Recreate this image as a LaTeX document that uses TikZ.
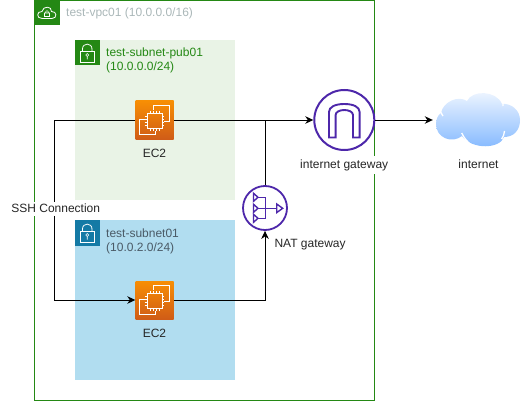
\documentclass[tikz,border=0pt]{standalone}
\usepackage{fontspec}
\setmainfont{Liberation Sans}
\usetikzlibrary{arrows.meta}
\definecolor{vpcgreen}{HTML}{248814}
\definecolor{pubfill}{HTML}{E9F3E6}
\definecolor{privfill}{HTML}{B1DDF0}
\definecolor{privblue}{HTML}{147AA5}
\definecolor{vpcgray}{HTML}{AAB7B8}
\definecolor{privtext}{HTML}{4A5A66}
\definecolor{gwpurple}{HTML}{4D27AA}
\definecolor{ectop}{HTML}{F78E04}
\definecolor{ecbottom}{HTML}{D05C17}
\definecolor{cloudtop}{HTML}{F0F6FF}
\definecolor{cloudbottom}{HTML}{82B8FF}
\tikzset{
  txt/.style={font=\fontsize{12}{14}\selectfont,inner sep=0pt,text=black!85},
  backed/.style={txt,fill=white,minimum height=14pt},
  conn/.style={draw=black,line width=1pt},
  tip/.style={-{Stealth[length=8pt,width=7.5pt,inset=2.5pt]}},
  ecbox/.style={rectangle,inner sep=0pt,minimum size=38pt,top color=ectop,bottom color=ecbottom},
  gwcircle/.style={circle,inner sep=0pt,draw=gwpurple,fill=white},
  iconline/.style={draw=white,line width=.8pt},
  gwline/.style={draw=gwpurple,line width=1.9pt},
  natline/.style={draw=gwpurple,line width=1.4pt},
  pics/ec2icon/.style={code={
    \draw[iconline,line width=1pt] (-7.5,-6.7) rectangle (7.5,8.3);
    \foreach \p in {-4.5,-1.5,1.5,4.5} {
      \draw[iconline,line width=.6pt] (\p,-9) -- (\p,-6.7) (\p,8.3) -- (\p,10.6);
      \draw[iconline,line width=.6pt] (-9.8,\p+.8) -- (-7.5,\p+.8) (7.5,\p+.8) -- (9.8,\p+.8);
    }
    \draw[iconline,line width=1pt] (-.8,-10) -- (-.8,-14.7) -- (15,-14.7) -- (15,1.3) -- (9.8,1.3);
    \draw[iconline,line width=1pt] (-9.8,-.7) -- (-15,-.7) -- (-15,14.7) -- (1.2,14.7) -- (1.2,10.6);
  }},
  pics/lockicon/.style={code={
    \fill[#1] (0,0) rectangle (25.5,25.5);
    \draw[iconline] (6,11.5) rectangle (19.5,22.5);
    \draw[iconline] (8,11.5) -- (8,9) .. controls (8,2.5) and (17.5,2.5) .. (17.5,9) -- (17.5,11.5);
    \draw[iconline,line width=.6pt] (12.7,15) circle (1.5) (12.7,16.5) -- (12.7,19.5);
  }}
}
\begin{document}
\begin{tikzpicture}[x=1pt,y=-1pt]
  \useasboundingbox (0,0) rectangle (524,401);
  \draw[vpcgreen,line width=1pt] (34.5,.5) rectangle (374.5,400.5);
  \fill[vpcgreen] (34.5,0) rectangle (60,25);
  \draw[iconline] (42,18.5) .. controls (36,18.5) and (36.5,11) .. (42,11.5)
    .. controls (43,5.5) and (52,6) .. (51.5,11.5)
    .. controls (57,11) and (57.5,18.5) .. (52,18.5) -- cycle;
  \draw[iconline,line width=.6pt] (44.5,13) rectangle (49.5,16.5)
    (45.5,13) .. controls (45.5,10) and (48.5,10) .. (48.5,13);
  \node[txt,text=vpcgray,anchor=west] (vpclabel) at (66,13.7) {test-vpc01 (10.0.0.0/16)};

  \fill[pubfill] (74.5,40) rectangle (234.5,200);
  \pic at (74.5,40) {lockicon=vpcgreen};
  \node[txt,text=vpcgreen,anchor=west,align=left] (publabel) at (106,60.7) {test-subnet-pub01\\(10.0.0.0/24)};

  \fill[privfill] (74.5,220) rectangle (234.5,380);
  \pic at (74.5,220) {lockicon=privblue};
  \node[txt,text=privtext,anchor=west,align=left] (privlabel) at (106,241) {test-subnet01\\(10.0.2.0/24)};

  \node[ecbox] (ec2pub) at (154.5,120) {};
  \pic at (ec2pub) {ec2icon};
  \node[txt] (ec2publabel) at (154.5,153.7) {EC2};
  \node[ecbox] (ec2priv) at (154.5,300) {};
  \pic at (ec2priv) {ec2icon};
  \node[txt] (ec2privlabel) at (154.5,333.7) {EC2};

  \node[backed,minimum height=18pt] (igwlabel) at (344.2,165) {internet gateway};
  \node[gwcircle,minimum size=60pt,line width=2pt] (igw) at (344.3,120) {};
  \draw[gwline,fill=white] (329,137.5) -- (329,112)
    .. controls (329,107) and (335,104) .. (344.3,104)
    .. controls (353.6,104) and (359.6,107) .. (359.6,112)
    -- (359.6,137.5) -- (353,137.5) -- (353,115)
    .. controls (353,112) and (349,110) .. (344.3,110)
    .. controls (339.6,110) and (335.6,112) .. (335.6,115)
    -- (335.6,137.5) -- cycle;

  \node[gwcircle,minimum size=44pt,line width=1.8pt] (nat) at (265,208) {};
  \draw[natline] (258,197.3) -- (265.7,197.3) -- (265.7,218.3) -- (258,218.3)
    (258,208.3) -- (276.7,208.3);
  \foreach \ty in {197.3,208.3,218.3}
    \draw[natline,fill=white] (253.5,\ty-4) -- (258,\ty) -- (253.5,\ty+4) -- cycle;
  \draw[natline,fill=white] (276.7,204) -- (282.7,208.3) -- (276.7,212.6) -- cycle;
  \node[txt,anchor=west] (natlabel) at (274.3,245) {NAT gateway};

  \node[minimum width=87pt,minimum height=51pt,inner sep=0pt] (cloud) at (476.5,120) {};
  \shade[top color=cloudtop,bottom color=cloudbottom,draw=none]
    (441,113) .. controls (443,102) and (458,95) .. (467,101)
    .. controls (472,90) and (496,90) .. (502,104)
    .. controls (511,103) and (520,110) .. (520,120)
    .. controls (520,130) and (514,137) .. (504,137)
    .. controls (500,149) and (472,150) .. (462,136)
    .. controls (452,144) and (436,138) .. (436,124)
    .. controls (436,119) and (438,115) .. (441,113) -- cycle;
  \draw[white,line width=1.3pt] (461.7,133) .. controls (464,138) and (467,141) .. (470,144)
    (504.5,131) .. controls (504.5,134) and (503,137) .. (501.7,139)
    (502,99) .. controls (503,102) and (503,104) .. (503,106)
    (440,111) -- (443,116);
  \node[txt] (cloudlabel) at (478.5,164.5) {internet};

  \node[backed] (ssh) at (55.7,208.7) {SSH Connection};
  \coordinate (junction) at (265,120);

  \draw[conn] ([xshift=-1.2pt]ssh.north) |- (ec2pub.west);
  \draw[conn,tip] ([xshift=-1.2pt]ssh.south) |- (ec2priv.west);
  \draw[conn,tip] (ec2pub.east) -- (igw.west);
  \draw[conn,tip] (igw.east) -- (cloud.west);
  \draw[conn] (nat.north) -- (junction);
  \draw[conn,tip] (ec2priv.east) -| (nat.south);
\end{tikzpicture}
\end{document}
